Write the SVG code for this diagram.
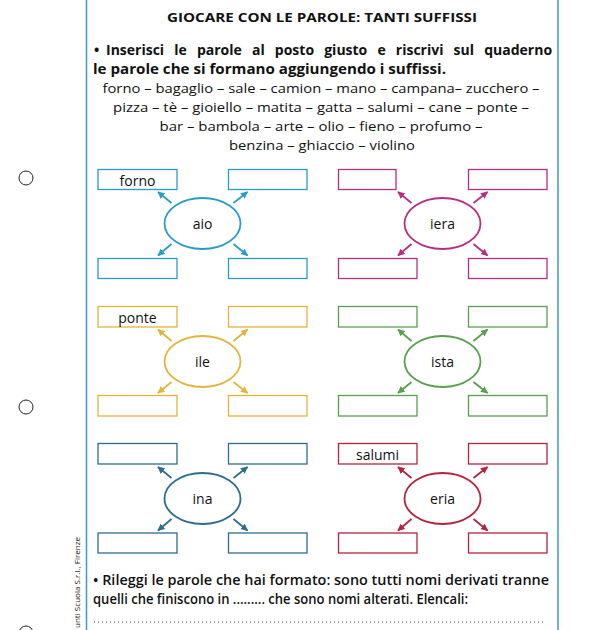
<svg xmlns="http://www.w3.org/2000/svg" width="595" height="630" viewBox="0 0 595 630">
<style>
text{font-family:"Open Sans","Liberation Sans",sans-serif;fill:#111}
.t{font-size:13px;font-weight:700}
.b{font-size:14px;font-weight:700}
.s{font-size:14px;font-weight:600}
.l{font-size:13px}
.n{font-size:14px;text-anchor:middle}
.box{fill:#fff;stroke-width:1.3}
.ell{fill:#fff;stroke-width:1.8}
.ar{stroke-width:1.8;fill:none}
.c1{stroke:#2b9cc3}.c2{stroke:#b52f83}.c3{stroke:#e3b43c}.c4{stroke:#5a9f4f}.c5{stroke:#2e6e8c}.c6{stroke:#b5243c}
</style>
<defs>
<marker id="m1" viewBox="0 0 10 10" refX="9" refY="5" markerWidth="4" markerHeight="4" orient="auto"><path d="M0,0L10,5L0,10z" fill="#2b9cc3"/></marker>
<marker id="m2" viewBox="0 0 10 10" refX="9" refY="5" markerWidth="4" markerHeight="4" orient="auto"><path d="M0,0L10,5L0,10z" fill="#b52f83"/></marker>
<marker id="m3" viewBox="0 0 10 10" refX="9" refY="5" markerWidth="4" markerHeight="4" orient="auto"><path d="M0,0L10,5L0,10z" fill="#e3b43c"/></marker>
<marker id="m4" viewBox="0 0 10 10" refX="9" refY="5" markerWidth="4" markerHeight="4" orient="auto"><path d="M0,0L10,5L0,10z" fill="#5a9f4f"/></marker>
<marker id="m5" viewBox="0 0 10 10" refX="9" refY="5" markerWidth="4" markerHeight="4" orient="auto"><path d="M0,0L10,5L0,10z" fill="#2e6e8c"/></marker>
<marker id="m6" viewBox="0 0 10 10" refX="9" refY="5" markerWidth="4" markerHeight="4" orient="auto"><path d="M0,0L10,5L0,10z" fill="#b5243c"/></marker>
</defs>
<rect width="595" height="630" fill="#fff"/>
<g id="frame" stroke="#3b9cbf" stroke-width="1.5">
<line x1="86.5" y1="0" x2="86.5" y2="630"/>
<line x1="558" y1="0" x2="558" y2="630"/>
</g>
<g id="holes" fill="none" stroke="#222" stroke-width="1">
<circle cx="26" cy="178" r="7"/>
<circle cx="26" cy="407" r="7"/>
<circle cx="26" cy="633" r="7"/>
</g>
<text transform="translate(80,628) rotate(-90)" font-size="8" textLength="91" lengthAdjust="spacingAndGlyphs">unti Scuola S.r.l., Firenze</text>
<text class="t" x="322" y="22" text-anchor="middle" textLength="310" lengthAdjust="spacingAndGlyphs">GIOCARE CON LE PAROLE: TANTI SUFFISSI</text>
<text class="b" y="55"><tspan x="94">•</tspan><tspan x="106" word-spacing="6.5">Inserisci le parole al posto giusto e riscrivi sul quaderno</tspan></text>
<text class="b" x="93" y="74" textLength="353" lengthAdjust="spacingAndGlyphs">le parole che si formano aggiungendo i suffissi.</text>
<text class="l" x="321" y="93" text-anchor="middle" textLength="437" lengthAdjust="spacingAndGlyphs">forno – bagaglio – sale – camion – mano – campana– zucchero –</text>
<text class="l" x="321" y="112" text-anchor="middle" textLength="416" lengthAdjust="spacingAndGlyphs">pizza – tè – gioiello – matita – gatta – salumi – cane – ponte –</text>
<text class="l" x="321" y="131" text-anchor="middle" textLength="323" lengthAdjust="spacingAndGlyphs">bar – bambola – arte – olio – fieno – profumo –</text>
<text class="l" x="322" y="150" text-anchor="middle" textLength="186" lengthAdjust="spacingAndGlyphs">benzina – ghiaccio – violino</text>

<g id="connectors">
<g marker-end="url(#m1)">
<line class="ar c1" x1="171.5" y1="203" x2="158" y2="192"/><line class="ar c1" x1="233.5" y1="203" x2="247.5" y2="192"/>
<line class="ar c1" x1="171.5" y1="244" x2="158" y2="255.5"/><line class="ar c1" x1="233.5" y1="244" x2="247.5" y2="255.5"/>
</g>
<g marker-end="url(#m2)">
<line class="ar c2" x1="411.5" y1="203" x2="398" y2="192"/><line class="ar c2" x1="473.5" y1="203" x2="487.5" y2="192"/>
<line class="ar c2" x1="411.5" y1="244" x2="398" y2="255.5"/><line class="ar c2" x1="473.5" y1="244" x2="487.5" y2="255.5"/>
</g>
<g marker-end="url(#m3)">
<line class="ar c3" x1="171.5" y1="341" x2="158" y2="329.5"/><line class="ar c3" x1="233.5" y1="341" x2="247.5" y2="329.5"/>
<line class="ar c3" x1="171.5" y1="382" x2="158" y2="393"/><line class="ar c3" x1="233.5" y1="382" x2="247.5" y2="393"/>
</g>
<g marker-end="url(#m4)">
<line class="ar c4" x1="411.5" y1="341" x2="398" y2="329.5"/><line class="ar c4" x1="473.5" y1="341" x2="487.5" y2="329.5"/>
<line class="ar c4" x1="411.5" y1="382" x2="398" y2="393"/><line class="ar c4" x1="473.5" y1="382" x2="487.5" y2="393"/>
</g>
<g marker-end="url(#m5)">
<line class="ar c5" x1="171.5" y1="478" x2="158" y2="467"/><line class="ar c5" x1="233.5" y1="478" x2="247.5" y2="467"/>
<line class="ar c5" x1="171.5" y1="519" x2="158" y2="530.5"/><line class="ar c5" x1="233.5" y1="519" x2="247.5" y2="530.5"/>
</g>
<g marker-end="url(#m6)">
<line class="ar c6" x1="411.5" y1="478" x2="398" y2="467"/><line class="ar c6" x1="473.5" y1="478" x2="487.5" y2="467"/>
<line class="ar c6" x1="411.5" y1="519" x2="398" y2="530.5"/><line class="ar c6" x1="473.5" y1="519" x2="487.5" y2="530.5"/>
</g>
</g>

<g id="node-aio">
<ellipse class="ell c1" cx="202.5" cy="223.5" rx="38" ry="25.5"/>
<text class="n" x="202.5" y="229">aio</text>
</g>
<g id="aio-boxes">
<rect class="box c1" x="98" y="169.5" width="79" height="20"/>
<text class="n" x="137.5" y="185.5">forno</text>
<rect class="box c1" x="228.5" y="169.5" width="78.5" height="20"/>
<rect class="box c1" x="98" y="258.5" width="79" height="20"/>
<rect class="box c1" x="228.5" y="258.5" width="78.5" height="20"/>
</g>

<g id="node-iera">
<ellipse class="ell c2" cx="442.5" cy="223.5" rx="38" ry="25.5"/>
<text class="n" x="442.5" y="229">iera</text>
</g>
<g id="iera-boxes">
<rect class="box c2" x="338.5" y="169.5" width="57.5" height="20"/>
<rect class="box c2" x="468.5" y="169.5" width="78.5" height="20"/>
<rect class="box c2" x="338.5" y="258.5" width="78.5" height="20"/>
<rect class="box c2" x="468.5" y="258.5" width="78.5" height="20"/>
</g>

<g id="node-ile">
<ellipse class="ell c3" cx="202.5" cy="361.5" rx="38" ry="25.5"/>
<text class="n" x="202.5" y="367">ile</text>
</g>
<g id="ile-boxes">
<rect class="box c3" x="98" y="306.5" width="79" height="20.5"/>
<text class="n" x="137.5" y="322.5">ponte</text>
<rect class="box c3" x="228.5" y="306.5" width="78.5" height="20.5"/>
<rect class="box c3" x="98" y="395.5" width="79" height="20.5"/>
<rect class="box c3" x="228.5" y="395.5" width="78.5" height="20.5"/>
</g>

<g id="node-ista">
<ellipse class="ell c4" cx="442.5" cy="361.5" rx="38" ry="25.5"/>
<text class="n" x="442.5" y="367">ista</text>
</g>
<g id="ista-boxes">
<rect class="box c4" x="338.5" y="306.5" width="78.5" height="20.5"/>
<rect class="box c4" x="468.5" y="306.5" width="78.5" height="20.5"/>
<rect class="box c4" x="338.5" y="395.5" width="78.5" height="20.5"/>
<rect class="box c4" x="468.5" y="395.5" width="78.5" height="20.5"/>
</g>

<g id="node-ina">
<ellipse class="ell c5" cx="202.5" cy="498.5" rx="38" ry="25.5"/>
<text class="n" x="202.5" y="504">ina</text>
</g>
<g id="ina-boxes">
<rect class="box c5" x="98" y="443.5" width="79" height="20.5"/>
<rect class="box c5" x="228.5" y="443.5" width="78.5" height="20.5"/>
<rect class="box c5" x="98" y="533" width="79" height="20"/>
<rect class="box c5" x="228.5" y="533" width="78.5" height="20"/>
</g>

<g id="node-eria">
<ellipse class="ell c6" cx="442.5" cy="498.5" rx="38" ry="25.5"/>
<text class="n" x="442.5" y="504">eria</text>
</g>
<g id="eria-boxes">
<rect class="box c6" x="338.5" y="443.5" width="78.5" height="20.5"/>
<text class="n" x="377.5" y="459.5">salumi</text>
<rect class="box c6" x="468.5" y="443.5" width="78.5" height="20.5"/>
<rect class="box c6" x="338.5" y="533" width="78.5" height="20"/>
<rect class="box c6" x="468.5" y="533" width="78.5" height="20"/>
</g>

<text class="s" x="93" y="585" textLength="456" lengthAdjust="spacingAndGlyphs">• Rileggi le parole che hai formato: sono tutti nomi derivati tranne</text>
<text class="s" x="93" y="604" textLength="375" lengthAdjust="spacingAndGlyphs">quelli che finiscono in ......... che sono nomi alterati. Elencali:</text>
<line x1="94" y1="622" x2="545" y2="622" stroke="#333" stroke-width="1" stroke-dasharray="1 3"/>
</svg>
